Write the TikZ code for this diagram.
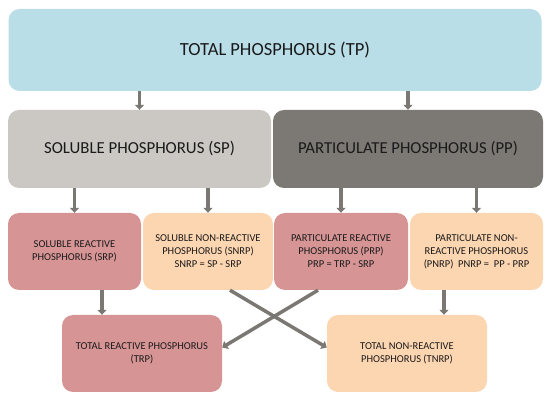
\documentclass[tikz,border=0pt]{standalone}
\usepackage{fontspec}
\setmainfont{Carlito}
\usepackage{xcolor}
\usepackage{tikz}
\usetikzlibrary{arrows.meta,calc}
\definecolor{total}{RGB}{185,222,232}
\definecolor{soluble}{RGB}{203,200,195}
\definecolor{particulate}{RGB}{124,120,116}
\definecolor{reactive}{RGB}{215,148,149}
\definecolor{nonreactive}{RGB}{252,213,177}
\definecolor{link}{RGB}{123,120,116}
\definecolor{label}{RGB}{26,26,26}
\tikzset{
    pbox/.style = {rounded corners=11pt, text=label, align=center, inner sep=2pt},
    plink/.style = {draw=link, line width=3.5pt, -{Triangle[width=9pt,length=5pt]}},
    small/.style = {font=\fontsize{10.5}{13}\selectfont}
}

\begin{document}
\begin{tikzpicture}[x=1pt, y=-1pt]
\useasboundingbox[fill=white] (0,0) rectangle (550,401);

%total
\node[pbox, fill=total, minimum width=533pt, minimum height=82pt, font=\fontsize{18.5}{22}\selectfont] (tp) at (275,50) {TOTAL PHOSPHORUS (TP)};

%soluble and particulate
\node[pbox, fill=soluble, minimum width=263pt, minimum height=78pt, font=\fontsize{16.8}{20}\selectfont] (sp) at (139.5,149) {SOLUBLE PHOSPHORUS (SP)};
\node[pbox, fill=particulate, minimum width=270pt, minimum height=78pt, font=\fontsize{16.7}{20}\selectfont] (pp) at (408,149) {PARTICULATE PHOSPHORUS (PP)};

%reactive / non-reactive
\node[pbox, small, fill=reactive, minimum width=133pt, minimum height=77pt] (srp) at (74.5,251.5) {SOLUBLE REACTIVE\\PHOSPHORUS (SRP)};
\node[pbox, small, fill=nonreactive, minimum width=130pt, minimum height=77pt] (snrp) at (208,251.5) {SOLUBLE NON-REACTIVE\\PHOSPHORUS (SNRP)\\SNRP = SP - SRP};
\node[pbox, small, fill=reactive, minimum width=134pt, minimum height=77pt] (prp) at (341,251.5) {PARTICULATE REACTIVE\\PHOSPHORUS (PRP)\\PRP = TRP - SRP};
\node[pbox, small, fill=nonreactive, minimum width=133pt, minimum height=77pt] (pnrp) at (476.5,251.5) {PARTICULATE NON-\\REACTIVE PHOSPHORUS\\(PNRP)\ \ PNRP = \ PP - PRP};

%totals
\node[pbox, small, fill=reactive, minimum width=160pt, minimum height=77pt] (trp) at (142,353.5) {TOTAL REACTIVE PHOSPHORUS\\(TRP)};
\node[pbox, small, fill=nonreactive, minimum width=160pt, minimum height=77pt] (tnrp) at (407,353.5) {TOTAL NON-REACTIVE\\PHOSPHORUS (TNRP)};

%links
\draw[plink] (tp.south -| sp.north) -- (sp.north);
\draw[plink] (tp.south -| pp.north) -- (pp.north);
\draw[plink] (sp.south -| srp.north) -- (srp.north);
\draw[plink] (sp.south -| snrp.north) -- (snrp.north);
\draw[plink] (pp.south -| prp.north) -- (prp.north);
\draw[plink] (pp.south -| pnrp.north) -- (pnrp.north);
\draw[plink] ([xshift=27.5pt]srp.south) coordinate (srpout) -- (srpout |- trp.north);
\draw[plink] ([xshift=-32.5pt]pnrp.south) coordinate (pnrpout) -- (pnrpout |- tnrp.north);
\draw[plink] ([xshift=22pt]snrp.south) -- ([yshift=6pt]tnrp.west);
\draw[plink] ([xshift=-23pt]prp.south) -- ([yshift=6pt]trp.east);

\end{tikzpicture}
\end{document}
